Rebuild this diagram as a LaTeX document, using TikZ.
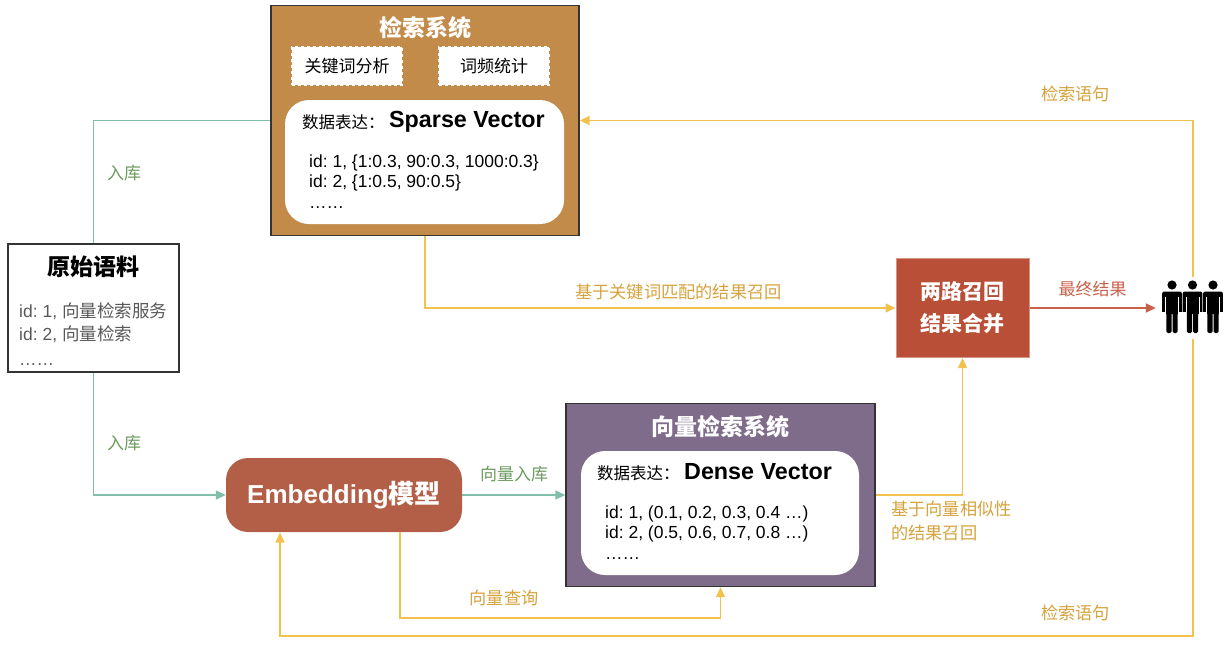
\documentclass[tikz,border=0pt]{standalone}
\usepackage{fontspec}
\usepackage{xcolor}
\setmainfont{Liberation Sans}
\newfontfamily\cjk{Noto Sans CJK SC}
\usetikzlibrary{positioning,calc,arrows.meta}

\definecolor{sparsefill}{HTML}{C38B49}
\definecolor{densefill}{HTML}{7F6C8A}
\definecolor{mergefill}{HTML}{B84F36}
\definecolor{embedfill}{HTML}{B35F47}
\definecolor{greenline}{HTML}{82BFA8}
\definecolor{greentext}{HTML}{6C9A5E}
\definecolor{goldline}{HTML}{F2C14E}
\definecolor{goldtext}{HTML}{D6A23C}
\definecolor{redline}{HTML}{C9604A}

\newcommand{\fsize}[1]{\fontsize{#1}{#1}\selectfont}
\frenchspacing

\tikzset{
    sysbox/.style={draw=black!80, line width=1.3pt, inner sep=0pt},
    innerbox/.style={fill=white, rounded corners=24pt, inner sep=0pt},
    tagbox/.style={fill=white, draw=white, line width=1.4pt, dash pattern=on 3pt off 3pt,
        minimum width=110pt, minimum height=38pt, inner sep=0pt, font=\cjk\fsize{17}},
    sysname/.style={text=white, font=\cjk\bfseries\fsize{23}},
    exprtext/.style={anchor=west, inner sep=0pt, font=\cjk\fsize{16.5}},
    vectext/.style={anchor=west, inner sep=0pt, font=\bfseries\fsize{23.3}},
    datatext/.style={anchor=west, align=left, inner sep=0pt, font=\frenchspacing\fsize{17.5}},
    greenarrow/.style={draw=greenline, line width=1.4pt, -{Triangle[length=10pt,width=9pt]}},
    greenplain/.style={draw=greenline, line width=1.4pt},
    goldarrow/.style={draw=goldline, line width=1.4pt, -{Triangle[length=10pt,width=9pt]}},
    redarrow/.style={draw=redline, line width=1.6pt, -{Triangle[length=10pt,width=9pt]}},
    greenlabel/.style={text=greentext, inner sep=0pt, font=\cjk\fsize{17}},
    goldlabel/.style={text=goldtext, inner sep=0pt, font=\cjk\fsize{17.2}},
}

\begin{document}
\begin{tikzpicture}[x=1pt, y=-1pt]
    \useasboundingbox (0,0) rectangle (1228,646);

    % Keyword search system
    \node[sysbox, fill=sparsefill, minimum width=308pt, minimum height=230pt] (sparse) at (425,120.5) {};
    \node[sysname] (sparsename) at (425,28) {检索系统};
    \node[tagbox] (keywords) at (347,66) {关键词分析};
    \node[tagbox] (termfreq) at (494,66) {词频统计};
    \node[innerbox, minimum width=279pt, minimum height=124pt] (sparsedata) at (424.5,162) {};
    \node[exprtext] (sparseexpr) at (302,122) {数据表达：};
    \node[vectext] (sparsevec) at (389,121.5) {Sparse Vector};
    \node[datatext] (sparserows) at (309,182) {id: 1, \{1:0.3, 90:0.3, 1000:0.3\}\\[2.5pt]
        id: 2, \{1:0.5, 90:0.5\}\\[3.5pt]……};

    % Raw corpus
    \node[sysbox, fill=white, minimum width=171pt, minimum height=128pt] (corpus) at (93.5,308) {};
    \node[inner sep=0pt, font=\cjk\bfseries\fsize{23}] (corpusname) at (93.5,267) {原始语料};
    \node[anchor=west, align=left, inner sep=0pt, text=black!65, font=\frenchspacing\fsize{17.5}] (corpusrows) at (19,334)
        {id: 1, {\cjk 向量检索服务}\\[6pt]id: 2, {\cjk 向量检索}\\[7pt]……};

    % Embedding model
    \node[fill=embedfill, rounded corners=22pt, minimum width=236pt, minimum height=74pt, inner sep=0pt,
        text=white, font=\bfseries\fsize{26}] (embed) at (344,495) {Embedding{\cjk 模型}};

    % Vector search system
    \node[sysbox, fill=densefill, minimum width=309pt, minimum height=183pt] (dense) at (720.5,495) {};
    \node[sysname] (densename) at (720,427) {向量检索系统};
    \node[innerbox, minimum width=278pt, minimum height=124pt] (densedata) at (720,513) {};
    \node[exprtext] (denseexpr) at (597,473) {数据表达：};
    \node[vectext] (densevec) at (684,472) {Dense Vector};
    \node[datatext] (denserows) at (605,533) {id: 1, (0.1, 0.2, 0.3, 0.4 …)\\[2.5pt]
        id: 2, (0.5, 0.6, 0.7, 0.8 …)\\[3.5pt]……};

    % Merge
    \node[fill=mergefill, draw=mergefill!60, line width=1pt, minimum width=133pt, minimum height=99pt, inner sep=0pt,
        align=center, text=white, font=\cjk\bfseries\fsize{21}] (merge) at (962.5,308) {两路召回\\[11pt]结果合并};

    % Users
    \node[minimum width=74pt, minimum height=62pt, inner sep=0pt] (people) at (1193,308) {};
    \foreach \px in {1172,1192.5,1213} {
        \fill (\px,285) circle (4.6);
        \fill[rounded corners=2pt] (\px-9.8,291.5) rectangle (\px+9.8,314);
        \fill[white] (\px-6.8,297) rectangle (\px-6,315);
        \fill[white] (\px+6,297) rectangle (\px+6.8,315);
        \fill[white] (\px-11,312) rectangle (\px-6,315);
        \fill[white] (\px+6,312) rectangle (\px+11,315);
        \fill[rounded corners=1.5pt] (\px-5.6,310) rectangle (\px-0.5,333);
        \fill[rounded corners=1.5pt] (\px+0.5,310) rectangle (\px+5.6,333);
    }

    % Connectors
    \draw[greenplain] (corpus.north) |- (sparse.west);
    \draw[greenarrow] (corpus.south) |- (embed.west);
    \draw[greenarrow] (embed.east) -- (dense.west);
    \draw[goldarrow] (sparse.south) |- (merge.west);
    \draw[goldarrow] (dense.east) -| (merge.south);
    \draw[redarrow] (merge.east) -- (people.west);
    \coordinate (querystart) at (400,532);
    \coordinate (querycorner) at (400,618);
    \draw[goldarrow] (querystart) -- (querycorner) -| (dense.south);
    \draw[goldarrow] (people.north) |- (sparse.east);
    \coordinate (backcorner) at (280,636);
    \coordinate (backend) at (280,532.5);
    \draw[goldarrow] (people.south) |- (backcorner) -- (backend);

    % Labels
    \node[greenlabel] (ingesttop) at (124,173) {入库};
    \node[greenlabel] (ingestbottom) at (124,443) {入库};
    \node[greenlabel] (vecingest) at (514,474) {向量入库};
    \node[goldlabel] (keywordhits) at (678.5,292) {基于关键词匹配的结果召回};
    \node[goldlabel, anchor=west, align=left] (vectorhits) at (891,521) {基于向量相似性\\[7pt]的结果召回};
    \node[goldlabel] (vecquery) at (504,598) {向量查询};
    \node[goldlabel] (querytop) at (1075.5,93.5) {检索语句};
    \node[goldlabel] (querybottom) at (1075.5,612.5) {检索语句};
    \node[text=redline, inner sep=0pt, font=\cjk\fsize{17}] (finalresult) at (1092.5,289) {最终结果};
\end{tikzpicture}
\end{document}
